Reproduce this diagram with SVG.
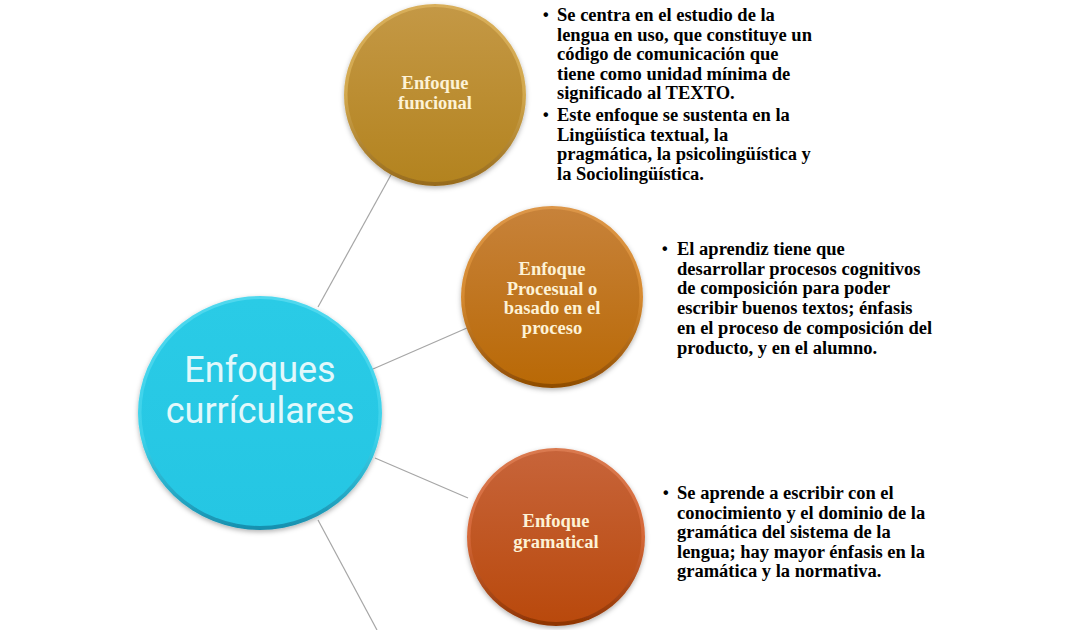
<svg xmlns="http://www.w3.org/2000/svg" width="1073" height="630" viewBox="0 0 1073 630">
<defs>
  <filter id="shadow" x="-20%" y="-20%" width="140%" height="140%">
    <feDropShadow dx="0" dy="2" stdDeviation="2.5" flood-color="#000" flood-opacity="0.3"/>
  </filter>
  <linearGradient id="rimGold" x1="0" y1="0" x2="0" y2="1">
    <stop offset="0" stop-color="#D8AE5A"/>
    <stop offset="0.5" stop-color="#D2A84E"/>
    <stop offset="1" stop-color="#966A1C"/>
  </linearGradient>
  <linearGradient id="fillGold" x1="0" y1="0" x2="0" y2="1">
    <stop offset="0" stop-color="#C49845"/>
    <stop offset="1" stop-color="#B3831F"/>
  </linearGradient>
  <linearGradient id="rimOrange" x1="0" y1="0" x2="0" y2="1">
    <stop offset="0" stop-color="#DC9648"/>
    <stop offset="0.5" stop-color="#D68A30"/>
    <stop offset="1" stop-color="#8E4C02"/>
  </linearGradient>
  <linearGradient id="fillOrange" x1="0" y1="0" x2="0" y2="1">
    <stop offset="0" stop-color="#C7823A"/>
    <stop offset="1" stop-color="#B96906"/>
  </linearGradient>
  <linearGradient id="rimRed" x1="0" y1="0" x2="0" y2="1">
    <stop offset="0" stop-color="#DA7A50"/>
    <stop offset="0.5" stop-color="#D56838"/>
    <stop offset="1" stop-color="#8E3402"/>
  </linearGradient>
  <linearGradient id="fillRed" x1="0" y1="0" x2="0" y2="1">
    <stop offset="0" stop-color="#C7643A"/>
    <stop offset="1" stop-color="#B9490C"/>
  </linearGradient>
  <linearGradient id="rimCyan" x1="0" y1="0" x2="0" y2="1">
    <stop offset="0" stop-color="#50D8EE"/>
    <stop offset="0.6" stop-color="#3CD2EA"/>
    <stop offset="1" stop-color="#178FAE"/>
  </linearGradient>
  <linearGradient id="fillCyan" x1="0" y1="0" x2="0" y2="1">
    <stop offset="0" stop-color="#2ACBE6"/>
    <stop offset="1" stop-color="#25C6E3"/>
  </linearGradient>
</defs>
<style>
  .conn { stroke: #A6A6A6; stroke-width: 1.2; fill: none; }
  .lbl { font-family: "Liberation Serif", "Times New Roman", serif; font-weight: bold; font-size: 18.5px; fill: #FDF2D6; text-anchor: middle; }
  .txt { font-family: "Liberation Serif", "Times New Roman", serif; font-weight: bold; font-size: 18.5px; fill: #000; }
  .bul { font-family: "Liberation Sans", Arial, sans-serif; font-size: 16px; font-weight: bold; fill: #000; }
  .main { font-family: Roboto, "Liberation Sans", sans-serif; font-size: 36px; fill: #E2F8FB; text-anchor: middle; }
</style>
<rect width="1073" height="630" fill="#FFFFFF"/>

<g id="connectors">
  <line class="conn" x1="318" y1="307" x2="392" y2="173"/>
  <line class="conn" x1="373" y1="369" x2="467" y2="328"/>
  <line class="conn" x1="375" y1="458" x2="468" y2="498"/>
  <line class="conn" x1="318" y1="520" x2="377" y2="630"/>
</g>

<g id="node-central">
  <ellipse cx="260" cy="413" rx="122" ry="117" fill="url(#rimCyan)" filter="url(#shadow)"/>
  <ellipse cx="260" cy="412.5" rx="118.5" ry="113.5" fill="url(#fillCyan)"/>
  <text class="main" x="260" y="382">Enfoques</text>
  <text class="main" x="260" y="423">currículares</text>
</g>

<g id="node-funcional">
  <circle cx="435" cy="95" r="91" fill="url(#rimGold)" filter="url(#shadow)"/>
  <circle cx="435" cy="94.5" r="87.5" fill="url(#fillGold)"/>
  <text class="lbl" x="435" y="89">Enfoque</text>
  <text class="lbl" x="435" y="109">funcional</text>
</g>

<g id="text-funcional">
  <text class="bul" x="543" y="20">•</text>
  <text class="txt" x="557" y="21">Se centra en el estudio de la</text>
  <text class="txt" x="557" y="40.5">lengua en uso, que constituye un</text>
  <text class="txt" x="557" y="60">código de comunicación que</text>
  <text class="txt" x="557" y="79.5">tiene como unidad mínima de</text>
  <text class="txt" x="557" y="99">significado al TEXTO.</text>
  <text class="bul" x="543" y="120">•</text>
  <text class="txt" x="557" y="121">Este enfoque se sustenta en la</text>
  <text class="txt" x="557" y="140.5">Lingüística textual, la</text>
  <text class="txt" x="557" y="160">pragmática, la psicolingüística y</text>
  <text class="txt" x="557" y="179.5">la Sociolingüística.</text>
</g>

<g id="node-procesual">
  <circle cx="552" cy="297" r="91" fill="url(#rimOrange)" filter="url(#shadow)"/>
  <circle cx="552" cy="296.5" r="87.5" fill="url(#fillOrange)"/>
  <text class="lbl" x="552" y="275">Enfoque</text>
  <text class="lbl" x="552" y="294.5">Procesual o</text>
  <text class="lbl" x="552" y="314">basado en el</text>
  <text class="lbl" x="552" y="333.5">proceso</text>
</g>

<g id="text-procesual">
  <text class="bul" x="662" y="254">•</text>
  <text class="txt" x="677" y="255">El aprendiz tiene que</text>
  <text class="txt" x="677" y="274.7">desarrollar procesos cognitivos</text>
  <text class="txt" x="677" y="294.4">de composición para poder</text>
  <text class="txt" x="677" y="314.1">escribir buenos textos; énfasis</text>
  <text class="txt" x="677" y="333.8">en el proceso de composición del</text>
  <text class="txt" x="677" y="353.5">producto, y en el alumno.</text>
</g>

<g id="node-gramatical">
  <circle cx="556" cy="537" r="89" fill="url(#rimRed)" filter="url(#shadow)"/>
  <circle cx="556" cy="536.5" r="85.5" fill="url(#fillRed)"/>
  <text class="lbl" x="556" y="527">Enfoque</text>
  <text class="lbl" x="556" y="548">gramatical</text>
</g>

<g id="text-gramatical">
  <text class="bul" x="663" y="498">•</text>
  <text class="txt" x="677" y="499">Se aprende a escribir con el</text>
  <text class="txt" x="677" y="518.5">conocimiento y el dominio de la</text>
  <text class="txt" x="677" y="538">gramática del sistema de la</text>
  <text class="txt" x="677" y="557.5">lengua; hay mayor énfasis en la</text>
  <text class="txt" x="677" y="577">gramática y la normativa.</text>
</g>
</svg>
